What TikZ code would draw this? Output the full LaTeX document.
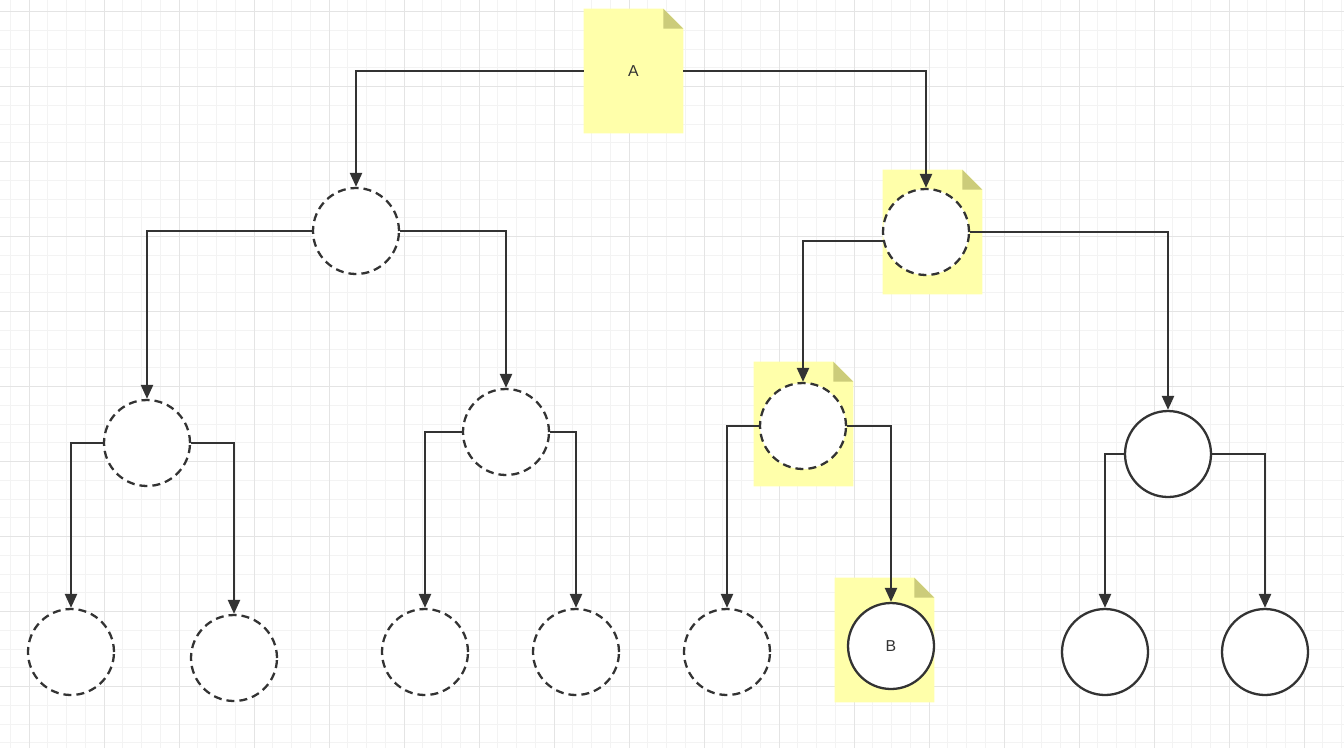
\documentclass[tikz,border=0pt]{standalone}
\usepackage{fontspec}
\setmainfont{Liberation Sans}
\usetikzlibrary{arrows.meta,positioning,backgrounds}
\definecolor{linegray}{RGB}{51,51,51}
\definecolor{noteyellow}{RGB}{255,255,170}
\definecolor{notefold}{RGB}{204,204,122}
\definecolor{gridminor}{RGB}{243,243,243}
\definecolor{gridmajor}{RGB}{228,228,228}
\tikzset{
  treenode/.style={circle, draw=linegray, line width=1.3pt, fill=white,
                   minimum size=1.72cm, inner sep=0pt, text=linegray,
                   font=\fontsize{9}{10}\selectfont},
  dashnode/.style={treenode, dash pattern=on 0.16cm off 0.1cm},
  note/.style={rectangle, minimum width=1.98cm, minimum height=2.48cm,
               inner sep=0pt, text=linegray, font=\fontsize{9}{10}\selectfont},
  arrow/.style={-{Triangle[length=0.28cm, width=0.24cm]}, line width=1.3pt, linegray},
}

\begin{document}
\begin{tikzpicture}[x=0.02cm, y=-0.02cm]
\useasboundingbox (0,0) rectangle (1344,748);
% sticky notes
\node[note] (noteA) at (633.5,71) {A};
\node[note] (noteR) at (932.5,232) {};
\node[note] (noteRL) at (803.5,424) {};
\node[note] (noteB) at (884.5,640) {};
% inner nodes
\node[dashnode] (n1) at (356,231) {};
\node[dashnode] (n2) at (926,232) {};
\node[dashnode] (n3) at (147,443) {};
\node[dashnode] (n4) at (506,432) {};
\node[dashnode] (n5) at (803,426) {};
\node[treenode] (n6) at (1168,454) {};
% leaves
\node[dashnode] (l1) at (71,652) {};
\node[dashnode] (l2) at (234,658) {};
\node[dashnode] (l3) at (425,652) {};
\node[dashnode] (l4) at (576,652) {};
\node[dashnode] (l5) at (727,652) {};
\node[treenode] (l6) at (891,646) {B};
\node[treenode] (l7) at (1105,652) {};
\node[treenode] (l8) at (1265,652) {};

\draw[arrow] (noteA.west) -| (n1.north);
\draw[arrow] (noteA.east) -| (n2.north);
\draw[arrow] (n1.west) -| (n3.north);
\draw[arrow] (n1.east) -| (n4.north);
\draw[arrow] (n2.192) -| (n5.north);
\draw[arrow] (n2.east) -| (n6.north);
\foreach \a/\b/\c in {n3/l1/l2, n4/l3/l4, n5/l5/l6, n6/l7/l8} {
  \draw[arrow] (\a.west) -| (\b.north);
  \draw[arrow] (\a.east) -| (\c.north);
}

\begin{scope}[on background layer]
  \fill[white] (0,0) rectangle (1344,748);
  \foreach \x in {10.25,29,...,1344} \draw[gridminor, line width=0.55pt] (\x,0) -- (\x,748);
  \foreach \y in {11.7,30.45,...,748} \draw[gridminor, line width=0.55pt] (0,\y) -- (1344,\y);
  \foreach \x in {29,104,...,1344} \draw[gridmajor, line width=0.55pt] (\x,0) -- (\x,748);
  \foreach \y in {11.7,86.7,...,748} \draw[gridmajor, line width=0.55pt] (0,\y) -- (1344,\y);
  \foreach \n in {noteA,noteR,noteRL,noteB} {
    \fill[noteyellow] (\n.north west) -- ([xshift=-0.4cm]\n.north east)
      -- ([yshift=-0.4cm]\n.north east) -- (\n.south east) -- (\n.south west) -- cycle;
    \fill[notefold] ([xshift=-0.4cm]\n.north east) |- ([yshift=-0.4cm]\n.north east) -- cycle;
  }
\end{scope}
\end{tikzpicture}
\end{document}
